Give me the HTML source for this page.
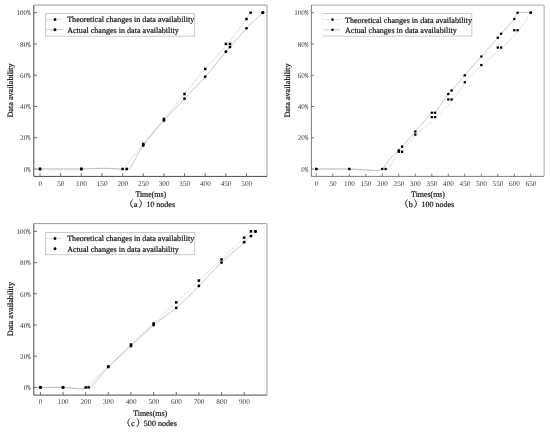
<!DOCTYPE html>
<html><head><meta charset="utf-8"><title>Data availability</title>
<style>html,body{margin:0;padding:0;background:#fff;}body{width:550px;height:432px;overflow:hidden;font-family:'Liberation Serif','Noto Serif CJK SC',serif;}</style>
</head><body>
<svg width="550" height="432" viewBox="0 0 550 432" font-family="'Liberation Serif','Noto Serif CJK SC',serif" style="display:block" text-rendering="geometricPrecision">
<rect width="550" height="432" fill="#fff"/>
<path d="M33.8,5.1H267.0V176.4" fill="none" stroke="#8a8a8a" stroke-width="0.85"/>
<path d="M33.8,5.1V176.4H267.0" fill="none" stroke="#4a4a4a" stroke-width="1.0"/>
<path d="M40.00,176.4v-3.2" stroke="#4a4a4a" stroke-width="0.8"/>
<text x="40.20" y="185.70" font-size="7.3" text-anchor="middle" textLength="3.6" lengthAdjust="spacingAndGlyphs" fill="#3a3a3a" >0</text>
<path d="M60.65,176.4v-3.2" stroke="#4a4a4a" stroke-width="0.8"/>
<text x="60.85" y="185.70" font-size="7.3" text-anchor="middle" textLength="7.2" lengthAdjust="spacingAndGlyphs" fill="#3a3a3a" >50</text>
<path d="M81.30,176.4v-3.2" stroke="#4a4a4a" stroke-width="0.8"/>
<text x="81.50" y="185.70" font-size="7.3" text-anchor="middle" textLength="10.8" lengthAdjust="spacingAndGlyphs" fill="#3a3a3a" >100</text>
<path d="M101.95,176.4v-3.2" stroke="#4a4a4a" stroke-width="0.8"/>
<text x="102.15" y="185.70" font-size="7.3" text-anchor="middle" textLength="10.8" lengthAdjust="spacingAndGlyphs" fill="#3a3a3a" >150</text>
<path d="M122.60,176.4v-3.2" stroke="#4a4a4a" stroke-width="0.8"/>
<text x="122.80" y="185.70" font-size="7.3" text-anchor="middle" textLength="10.8" lengthAdjust="spacingAndGlyphs" fill="#3a3a3a" >200</text>
<path d="M143.25,176.4v-3.2" stroke="#4a4a4a" stroke-width="0.8"/>
<text x="143.45" y="185.70" font-size="7.3" text-anchor="middle" textLength="10.8" lengthAdjust="spacingAndGlyphs" fill="#3a3a3a" >250</text>
<path d="M163.90,176.4v-3.2" stroke="#4a4a4a" stroke-width="0.8"/>
<text x="164.10" y="185.70" font-size="7.3" text-anchor="middle" textLength="10.8" lengthAdjust="spacingAndGlyphs" fill="#3a3a3a" >300</text>
<path d="M184.55,176.4v-3.2" stroke="#4a4a4a" stroke-width="0.8"/>
<text x="184.75" y="185.70" font-size="7.3" text-anchor="middle" textLength="10.8" lengthAdjust="spacingAndGlyphs" fill="#3a3a3a" >350</text>
<path d="M205.20,176.4v-3.2" stroke="#4a4a4a" stroke-width="0.8"/>
<text x="205.40" y="185.70" font-size="7.3" text-anchor="middle" textLength="10.8" lengthAdjust="spacingAndGlyphs" fill="#3a3a3a" >400</text>
<path d="M225.85,176.4v-3.2" stroke="#4a4a4a" stroke-width="0.8"/>
<text x="226.05" y="185.70" font-size="7.3" text-anchor="middle" textLength="10.8" lengthAdjust="spacingAndGlyphs" fill="#3a3a3a" >450</text>
<path d="M246.50,176.4v-3.2" stroke="#4a4a4a" stroke-width="0.8"/>
<text x="246.70" y="185.70" font-size="7.3" text-anchor="middle" textLength="10.8" lengthAdjust="spacingAndGlyphs" fill="#3a3a3a" >500</text>
<path d="M33.8,169.00h3.2" stroke="#4a4a4a" stroke-width="0.8"/>
<text y="171.70" font-size="7.3" fill="#3a3a3a"><tspan x="23.65" textLength="3.5" lengthAdjust="spacingAndGlyphs">0</tspan><tspan x="27.10" textLength="3.6" lengthAdjust="spacingAndGlyphs" stroke="#3a3a3a" stroke-width="0.12">%</tspan></text>
<path d="M33.8,137.74h3.2" stroke="#4a4a4a" stroke-width="0.8"/>
<text y="140.44" font-size="7.3" fill="#3a3a3a"><tspan x="20.10" textLength="7.1" lengthAdjust="spacingAndGlyphs">20</tspan><tspan x="27.10" textLength="3.6" lengthAdjust="spacingAndGlyphs" stroke="#3a3a3a" stroke-width="0.12">%</tspan></text>
<path d="M33.8,106.48h3.2" stroke="#4a4a4a" stroke-width="0.8"/>
<text y="109.18" font-size="7.3" fill="#3a3a3a"><tspan x="20.10" textLength="7.1" lengthAdjust="spacingAndGlyphs">40</tspan><tspan x="27.10" textLength="3.6" lengthAdjust="spacingAndGlyphs" stroke="#3a3a3a" stroke-width="0.12">%</tspan></text>
<path d="M33.8,75.22h3.2" stroke="#4a4a4a" stroke-width="0.8"/>
<text y="77.92" font-size="7.3" fill="#3a3a3a"><tspan x="20.10" textLength="7.1" lengthAdjust="spacingAndGlyphs">60</tspan><tspan x="27.10" textLength="3.6" lengthAdjust="spacingAndGlyphs" stroke="#3a3a3a" stroke-width="0.12">%</tspan></text>
<path d="M33.8,43.96h3.2" stroke="#4a4a4a" stroke-width="0.8"/>
<text y="46.66" font-size="7.3" fill="#3a3a3a"><tspan x="20.10" textLength="7.1" lengthAdjust="spacingAndGlyphs">80</tspan><tspan x="27.10" textLength="3.6" lengthAdjust="spacingAndGlyphs" stroke="#3a3a3a" stroke-width="0.12">%</tspan></text>
<path d="M33.8,12.70h3.2" stroke="#4a4a4a" stroke-width="0.8"/>
<text y="15.40" font-size="7.3" fill="#3a3a3a"><tspan x="16.55" textLength="10.6" lengthAdjust="spacingAndGlyphs">100</tspan><tspan x="27.10" textLength="3.6" lengthAdjust="spacingAndGlyphs" stroke="#3a3a3a" stroke-width="0.12">%</tspan></text>
<path d="M34.22,169.00C35.18,169.00 35.59,169.00 40.00,169.00C44.41,169.00 53.77,169.00 60.65,169.00C67.53,169.00 74.42,169.13 81.30,169.00C88.18,168.87 96.10,168.24 101.95,168.22C107.80,168.19 112.96,168.71 116.41,168.84C119.85,168.97 118.13,173.14 122.60,169.00C127.07,164.86 136.37,152.33 143.25,143.99C150.13,135.66 157.02,127.32 163.90,118.98C170.78,110.65 177.67,102.31 184.55,93.98C191.43,85.64 197.90,77.38 205.20,68.97C212.50,60.55 221.44,51.83 228.33,43.49C235.21,35.16 242.78,24.08 246.50,18.95C250.22,13.82 247.95,13.74 250.63,12.70C253.31,11.66 260.61,12.70 262.61,12.70" fill="none" stroke="#b0b0b0" stroke-width="0.6" stroke-dasharray="1.2,0.8"/>
<path d="M34.22,169.00C35.18,169.00 35.59,169.00 40.00,169.00C44.41,169.00 53.77,169.00 60.65,169.00C67.53,169.00 74.42,169.10 81.30,169.00C88.18,168.90 95.41,168.40 101.95,168.37C108.49,168.35 116.41,168.74 120.53,168.84C124.66,168.95 125.01,169.29 126.73,169.00C128.45,168.71 128.11,171.03 130.86,167.12C133.61,163.22 137.74,153.32 143.25,145.56C148.76,137.79 157.02,128.36 163.90,120.55C170.78,112.73 177.67,105.96 184.55,98.67C191.43,91.37 198.32,84.60 205.20,76.78C212.08,68.97 221.72,56.72 225.85,51.78C229.98,46.83 226.54,50.99 229.98,47.09C233.42,43.18 241.06,34.06 246.50,28.33C251.94,22.60 259.92,15.31 262.61,12.70" fill="none" stroke="#adadad" stroke-width="0.7"/>
<rect x="38.75" y="167.75" width="2.5" height="2.5" fill="#000"/>
<rect x="80.05" y="167.75" width="2.5" height="2.5" fill="#000"/>
<rect x="121.35" y="167.75" width="2.5" height="2.5" fill="#000"/>
<rect x="142.00" y="142.74" width="2.5" height="2.5" fill="#000"/>
<rect x="162.65" y="117.73" width="2.5" height="2.5" fill="#000"/>
<rect x="183.30" y="92.73" width="2.5" height="2.5" fill="#000"/>
<rect x="203.95" y="67.72" width="2.5" height="2.5" fill="#000"/>
<rect x="224.60" y="42.71" width="2.5" height="2.5" fill="#000"/>
<rect x="228.73" y="42.71" width="2.5" height="2.5" fill="#000"/>
<rect x="245.25" y="17.70" width="2.5" height="2.5" fill="#000"/>
<rect x="249.38" y="11.45" width="2.5" height="2.5" fill="#000"/>
<rect x="261.36" y="11.45" width="2.5" height="2.5" fill="#000"/>
<circle cx="40.00" cy="169.00" r="1.45" fill="#000"/>
<circle cx="81.30" cy="169.00" r="1.45" fill="#000"/>
<circle cx="126.73" cy="169.00" r="1.45" fill="#000"/>
<circle cx="143.25" cy="145.56" r="1.45" fill="#000"/>
<circle cx="163.90" cy="120.55" r="1.45" fill="#000"/>
<circle cx="184.55" cy="98.67" r="1.45" fill="#000"/>
<circle cx="205.20" cy="76.78" r="1.45" fill="#000"/>
<circle cx="225.85" cy="51.78" r="1.45" fill="#000"/>
<circle cx="229.98" cy="47.09" r="1.45" fill="#000"/>
<circle cx="246.50" cy="28.33" r="1.45" fill="#000"/>
<circle cx="263.02" cy="12.70" r="1.45" fill="#000"/>
<rect x="45.4" y="13.7" width="149.4" height="22.400000000000002" fill="#fff" stroke="#aaa" stroke-width="0.6"/>
<path d="M47,19.5h15.5" stroke="#b0b0b0" stroke-width="0.6" stroke-dasharray="1.2,0.8"/>
<path d="M47,29.7h15.5" stroke="#b8b8b8" stroke-width="0.8"/>
<rect x="53.75" y="18.25" width="2.5" height="2.5" fill="#000"/>
<circle cx="55" cy="29.7" r="1.45" fill="#000"/>
<text x="67.2" y="22.40" font-size="8.1" textLength="127" lengthAdjust="spacingAndGlyphs" fill="#111" stroke="#111" stroke-width="0.2">Theoretical changes in data availability</text>
<text x="67.2" y="32.80" font-size="8.1" textLength="111.7" lengthAdjust="spacingAndGlyphs" fill="#111" stroke="#111" stroke-width="0.2">Actual changes in data availability</text>
<text transform="translate(13.1,90.45) rotate(-90)" font-size="8.2" text-anchor="middle" textLength="54.3" lengthAdjust="spacingAndGlyphs" fill="#111" stroke="#111" stroke-width="0.2">Data availability</text>
<text x="135.4" y="197.40" font-size="8.3" textLength="30.8" lengthAdjust="spacingAndGlyphs" fill="#111" stroke="#111" stroke-width="0.2">Time(ms)</text>
<text y="207.40" font-size="8.1" fill="#111" stroke="#111" stroke-width="0.2"><tspan x="124.40" font-size="9">（</tspan><tspan x="133.70">a</tspan><tspan x="138.60" font-size="9">）</tspan><tspan x="146.40" textLength="28.6" lengthAdjust="spacingAndGlyphs">10 nodes</tspan></text>
<path d="M311.4,5.1H544.1V176.4" fill="none" stroke="#999" stroke-width="0.85"/>
<path d="M311.4,5.1V176.4H544.1" fill="none" stroke="#5a5a5a" stroke-width="0.8"/>
<path d="M316.30,176.4v-2.7" stroke="#5a5a5a" stroke-width="0.8"/>
<text x="316.50" y="185.70" font-size="7.3" text-anchor="middle" textLength="3.6" lengthAdjust="spacingAndGlyphs" fill="#3a3a3a" >0</text>
<path d="M332.80,176.4v-2.7" stroke="#5a5a5a" stroke-width="0.8"/>
<text x="333.00" y="185.70" font-size="7.3" text-anchor="middle" textLength="7.2" lengthAdjust="spacingAndGlyphs" fill="#3a3a3a" >50</text>
<path d="M349.30,176.4v-2.7" stroke="#5a5a5a" stroke-width="0.8"/>
<text x="349.50" y="185.70" font-size="7.3" text-anchor="middle" textLength="10.8" lengthAdjust="spacingAndGlyphs" fill="#3a3a3a" >100</text>
<path d="M365.80,176.4v-2.7" stroke="#5a5a5a" stroke-width="0.8"/>
<text x="366.00" y="185.70" font-size="7.3" text-anchor="middle" textLength="10.8" lengthAdjust="spacingAndGlyphs" fill="#3a3a3a" >150</text>
<path d="M382.30,176.4v-2.7" stroke="#5a5a5a" stroke-width="0.8"/>
<text x="382.50" y="185.70" font-size="7.3" text-anchor="middle" textLength="10.8" lengthAdjust="spacingAndGlyphs" fill="#3a3a3a" >200</text>
<path d="M398.80,176.4v-2.7" stroke="#5a5a5a" stroke-width="0.8"/>
<text x="399.00" y="185.70" font-size="7.3" text-anchor="middle" textLength="10.8" lengthAdjust="spacingAndGlyphs" fill="#3a3a3a" >250</text>
<path d="M415.30,176.4v-2.7" stroke="#5a5a5a" stroke-width="0.8"/>
<text x="415.50" y="185.70" font-size="7.3" text-anchor="middle" textLength="10.8" lengthAdjust="spacingAndGlyphs" fill="#3a3a3a" >300</text>
<path d="M431.80,176.4v-2.7" stroke="#5a5a5a" stroke-width="0.8"/>
<text x="432.00" y="185.70" font-size="7.3" text-anchor="middle" textLength="10.8" lengthAdjust="spacingAndGlyphs" fill="#3a3a3a" >350</text>
<path d="M448.30,176.4v-2.7" stroke="#5a5a5a" stroke-width="0.8"/>
<text x="448.50" y="185.70" font-size="7.3" text-anchor="middle" textLength="10.8" lengthAdjust="spacingAndGlyphs" fill="#3a3a3a" >400</text>
<path d="M464.80,176.4v-2.7" stroke="#5a5a5a" stroke-width="0.8"/>
<text x="465.00" y="185.70" font-size="7.3" text-anchor="middle" textLength="10.8" lengthAdjust="spacingAndGlyphs" fill="#3a3a3a" >450</text>
<path d="M481.30,176.4v-2.7" stroke="#5a5a5a" stroke-width="0.8"/>
<text x="481.50" y="185.70" font-size="7.3" text-anchor="middle" textLength="10.8" lengthAdjust="spacingAndGlyphs" fill="#3a3a3a" >500</text>
<path d="M497.80,176.4v-2.7" stroke="#5a5a5a" stroke-width="0.8"/>
<text x="498.00" y="185.70" font-size="7.3" text-anchor="middle" textLength="10.8" lengthAdjust="spacingAndGlyphs" fill="#3a3a3a" >550</text>
<path d="M514.30,176.4v-2.7" stroke="#5a5a5a" stroke-width="0.8"/>
<text x="514.50" y="185.70" font-size="7.3" text-anchor="middle" textLength="10.8" lengthAdjust="spacingAndGlyphs" fill="#3a3a3a" >600</text>
<path d="M530.80,176.4v-2.7" stroke="#5a5a5a" stroke-width="0.8"/>
<text x="531.00" y="185.70" font-size="7.3" text-anchor="middle" textLength="10.8" lengthAdjust="spacingAndGlyphs" fill="#3a3a3a" >650</text>
<path d="M311.4,169.00h2.7" stroke="#5a5a5a" stroke-width="0.8"/>
<text y="171.70" font-size="7.3" fill="#3a3a3a"><tspan x="301.25" textLength="3.5" lengthAdjust="spacingAndGlyphs">0</tspan><tspan x="304.70" textLength="3.6" lengthAdjust="spacingAndGlyphs" stroke="#3a3a3a" stroke-width="0.12">%</tspan></text>
<path d="M311.4,137.74h2.7" stroke="#5a5a5a" stroke-width="0.8"/>
<text y="140.44" font-size="7.3" fill="#3a3a3a"><tspan x="297.70" textLength="7.1" lengthAdjust="spacingAndGlyphs">20</tspan><tspan x="304.70" textLength="3.6" lengthAdjust="spacingAndGlyphs" stroke="#3a3a3a" stroke-width="0.12">%</tspan></text>
<path d="M311.4,106.48h2.7" stroke="#5a5a5a" stroke-width="0.8"/>
<text y="109.18" font-size="7.3" fill="#3a3a3a"><tspan x="297.70" textLength="7.1" lengthAdjust="spacingAndGlyphs">40</tspan><tspan x="304.70" textLength="3.6" lengthAdjust="spacingAndGlyphs" stroke="#3a3a3a" stroke-width="0.12">%</tspan></text>
<path d="M311.4,75.22h2.7" stroke="#5a5a5a" stroke-width="0.8"/>
<text y="77.92" font-size="7.3" fill="#3a3a3a"><tspan x="297.70" textLength="7.1" lengthAdjust="spacingAndGlyphs">60</tspan><tspan x="304.70" textLength="3.6" lengthAdjust="spacingAndGlyphs" stroke="#3a3a3a" stroke-width="0.12">%</tspan></text>
<path d="M311.4,43.96h2.7" stroke="#5a5a5a" stroke-width="0.8"/>
<text y="46.66" font-size="7.3" fill="#3a3a3a"><tspan x="297.70" textLength="7.1" lengthAdjust="spacingAndGlyphs">80</tspan><tspan x="304.70" textLength="3.6" lengthAdjust="spacingAndGlyphs" stroke="#3a3a3a" stroke-width="0.12">%</tspan></text>
<path d="M311.4,12.70h2.7" stroke="#5a5a5a" stroke-width="0.8"/>
<text y="15.40" font-size="7.3" fill="#3a3a3a"><tspan x="294.15" textLength="10.6" lengthAdjust="spacingAndGlyphs">100</tspan><tspan x="304.70" textLength="3.6" lengthAdjust="spacingAndGlyphs" stroke="#3a3a3a" stroke-width="0.12">%</tspan></text>
<path d="M316.30,169.00C319.05,169.00 327.30,169.00 332.80,169.00C338.30,169.00 343.80,168.84 349.30,169.00C354.80,169.16 361.12,169.68 365.80,169.94C370.48,170.20 374.05,170.72 377.35,170.56C380.65,170.41 383.57,169.60 385.60,169.00C387.63,168.40 387.91,168.92 389.56,166.97C391.21,165.01 393.85,159.80 395.50,157.28C397.15,154.75 398.20,153.11 399.46,151.81C400.73,150.50 400.45,152.20 403.09,149.46C405.73,146.73 409.75,140.79 415.30,135.40C420.86,130.00 430.15,123.10 436.42,117.11C442.69,111.12 448.08,105.26 452.92,99.45C457.76,93.64 460.62,87.98 465.46,82.25C470.30,76.52 475.80,70.84 481.96,65.06C488.12,59.28 496.26,53.36 502.42,47.55C508.58,41.75 514.19,36.01 518.92,30.21C523.65,24.40 528.82,15.62 530.80,12.70" fill="none" stroke="#b0b0b0" stroke-width="0.6" stroke-dasharray="1.2,0.8"/>
<path d="M316.30,169.00C319.05,169.00 327.30,169.00 332.80,169.00C338.30,169.00 343.80,168.87 349.30,169.00C354.80,169.13 361.40,169.55 365.80,169.78C370.20,170.02 372.95,170.54 375.70,170.41C378.45,170.28 380.54,170.07 382.30,169.00C384.06,167.93 384.61,166.08 386.26,164.00C387.91,161.91 390.11,158.79 392.20,156.50C394.29,154.20 397.15,151.89 398.80,150.24C400.45,148.60 399.35,149.78 402.10,146.65C404.85,143.52 410.35,137.14 415.30,131.49C420.25,125.84 428.50,115.86 431.80,112.73C435.10,109.61 432.35,115.86 435.10,112.73C437.85,109.61 445.55,97.68 448.30,93.98C451.05,90.28 448.85,93.66 451.60,90.54C454.35,87.41 459.85,80.90 464.80,75.22C469.75,69.54 475.80,62.72 481.30,56.46C486.80,50.21 494.50,41.49 497.80,37.71C501.10,33.93 498.35,36.93 501.10,33.80C503.85,30.67 511.55,22.47 514.30,18.95C517.05,15.44 514.85,13.74 517.60,12.70C520.35,11.66 528.60,12.70 530.80,12.70" fill="none" stroke="#adadad" stroke-width="0.7"/>
<rect x="315.15" y="167.85" width="2.3" height="2.3" fill="#000"/>
<rect x="348.15" y="167.85" width="2.3" height="2.3" fill="#000"/>
<rect x="384.45" y="167.85" width="2.3" height="2.3" fill="#000"/>
<rect x="397.65" y="150.66" width="2.3" height="2.3" fill="#000"/>
<rect x="400.95" y="150.66" width="2.3" height="2.3" fill="#000"/>
<rect x="414.15" y="133.46" width="2.3" height="2.3" fill="#000"/>
<rect x="430.65" y="115.96" width="2.3" height="2.3" fill="#000"/>
<rect x="433.95" y="115.96" width="2.3" height="2.3" fill="#000"/>
<rect x="447.15" y="98.30" width="2.3" height="2.3" fill="#000"/>
<rect x="450.45" y="98.30" width="2.3" height="2.3" fill="#000"/>
<rect x="463.65" y="81.10" width="2.3" height="2.3" fill="#000"/>
<rect x="480.15" y="63.91" width="2.3" height="2.3" fill="#000"/>
<rect x="496.65" y="46.40" width="2.3" height="2.3" fill="#000"/>
<rect x="499.95" y="46.40" width="2.3" height="2.3" fill="#000"/>
<rect x="513.15" y="29.06" width="2.3" height="2.3" fill="#000"/>
<rect x="516.45" y="29.06" width="2.3" height="2.3" fill="#000"/>
<rect x="529.65" y="11.55" width="2.3" height="2.3" fill="#000"/>
<circle cx="316.30" cy="169.00" r="1.3" fill="#000"/>
<circle cx="349.30" cy="169.00" r="1.3" fill="#000"/>
<circle cx="382.30" cy="169.00" r="1.3" fill="#000"/>
<circle cx="398.80" cy="150.24" r="1.3" fill="#000"/>
<circle cx="402.10" cy="146.65" r="1.3" fill="#000"/>
<circle cx="415.30" cy="131.49" r="1.3" fill="#000"/>
<circle cx="431.80" cy="112.73" r="1.3" fill="#000"/>
<circle cx="435.10" cy="112.73" r="1.3" fill="#000"/>
<circle cx="448.30" cy="93.98" r="1.3" fill="#000"/>
<circle cx="451.60" cy="90.54" r="1.3" fill="#000"/>
<circle cx="464.80" cy="75.22" r="1.3" fill="#000"/>
<circle cx="481.30" cy="56.46" r="1.3" fill="#000"/>
<circle cx="497.80" cy="37.71" r="1.3" fill="#000"/>
<circle cx="501.10" cy="33.80" r="1.3" fill="#000"/>
<circle cx="514.30" cy="18.95" r="1.3" fill="#000"/>
<circle cx="517.60" cy="12.70" r="1.3" fill="#000"/>
<circle cx="530.80" cy="12.70" r="1.3" fill="#000"/>
<path d="M322.8,13.5H471.8V36.1H322.8" fill="#fff" stroke="#aaa" stroke-width="0.6"/>
<path d="M322.8,13.5V36.1" fill="none" stroke="#e4e4e4" stroke-width="0.5"/>
<path d="M324.5,19.6h15.5" stroke="#b0b0b0" stroke-width="0.6" stroke-dasharray="1.2,0.8"/>
<path d="M324.5,29.8h15.5" stroke="#b8b8b8" stroke-width="0.8"/>
<rect x="331.35" y="18.45" width="2.3" height="2.3" fill="#000"/>
<circle cx="332.5" cy="29.8" r="1.3" fill="#000"/>
<text x="345" y="22.50" font-size="8.1" textLength="127" lengthAdjust="spacingAndGlyphs" fill="#111" stroke="#111" stroke-width="0.2">Theoretical changes in data availability</text>
<text x="345" y="32.90" font-size="8.1" textLength="111.7" lengthAdjust="spacingAndGlyphs" fill="#111" stroke="#111" stroke-width="0.2">Actual changes in data availability</text>
<text transform="translate(290.0,90.45) rotate(-90)" font-size="8.2" text-anchor="middle" textLength="54.3" lengthAdjust="spacingAndGlyphs" fill="#111" stroke="#111" stroke-width="0.2">Data availability</text>
<text x="411.1" y="197.40" font-size="8.3" textLength="33.9" lengthAdjust="spacingAndGlyphs" fill="#111" stroke="#111" stroke-width="0.2">Times(ms)</text>
<text y="207.40" font-size="8.1" fill="#111" stroke="#111" stroke-width="0.2"><tspan x="399.40" font-size="9">（</tspan><tspan x="408.70">b</tspan><tspan x="413.60" font-size="9">）</tspan><tspan x="421.40" textLength="32.7" lengthAdjust="spacingAndGlyphs">100 nodes</tspan></text>
<path d="M33.8,223.6H267.0V395.1" fill="none" stroke="#8a8a8a" stroke-width="0.85"/>
<path d="M33.8,223.6V395.1H267.0" fill="none" stroke="#4a4a4a" stroke-width="1.0"/>
<path d="M40.40,395.1v-3.2" stroke="#4a4a4a" stroke-width="0.8"/>
<text x="40.60" y="404.40" font-size="7.3" text-anchor="middle" textLength="3.6" lengthAdjust="spacingAndGlyphs" fill="#3a3a3a" >0</text>
<path d="M63.04,395.1v-3.2" stroke="#4a4a4a" stroke-width="0.8"/>
<text x="63.24" y="404.40" font-size="7.3" text-anchor="middle" textLength="10.8" lengthAdjust="spacingAndGlyphs" fill="#3a3a3a" >100</text>
<path d="M85.68,395.1v-3.2" stroke="#4a4a4a" stroke-width="0.8"/>
<text x="85.88" y="404.40" font-size="7.3" text-anchor="middle" textLength="10.8" lengthAdjust="spacingAndGlyphs" fill="#3a3a3a" >200</text>
<path d="M108.32,395.1v-3.2" stroke="#4a4a4a" stroke-width="0.8"/>
<text x="108.52" y="404.40" font-size="7.3" text-anchor="middle" textLength="10.8" lengthAdjust="spacingAndGlyphs" fill="#3a3a3a" >300</text>
<path d="M130.96,395.1v-3.2" stroke="#4a4a4a" stroke-width="0.8"/>
<text x="131.16" y="404.40" font-size="7.3" text-anchor="middle" textLength="10.8" lengthAdjust="spacingAndGlyphs" fill="#3a3a3a" >400</text>
<path d="M153.60,395.1v-3.2" stroke="#4a4a4a" stroke-width="0.8"/>
<text x="153.80" y="404.40" font-size="7.3" text-anchor="middle" textLength="10.8" lengthAdjust="spacingAndGlyphs" fill="#3a3a3a" >500</text>
<path d="M176.24,395.1v-3.2" stroke="#4a4a4a" stroke-width="0.8"/>
<text x="176.44" y="404.40" font-size="7.3" text-anchor="middle" textLength="10.8" lengthAdjust="spacingAndGlyphs" fill="#3a3a3a" >600</text>
<path d="M198.88,395.1v-3.2" stroke="#4a4a4a" stroke-width="0.8"/>
<text x="199.08" y="404.40" font-size="7.3" text-anchor="middle" textLength="10.8" lengthAdjust="spacingAndGlyphs" fill="#3a3a3a" >700</text>
<path d="M221.52,395.1v-3.2" stroke="#4a4a4a" stroke-width="0.8"/>
<text x="221.72" y="404.40" font-size="7.3" text-anchor="middle" textLength="10.8" lengthAdjust="spacingAndGlyphs" fill="#3a3a3a" >800</text>
<path d="M244.16,395.1v-3.2" stroke="#4a4a4a" stroke-width="0.8"/>
<text x="244.36" y="404.40" font-size="7.3" text-anchor="middle" textLength="10.8" lengthAdjust="spacingAndGlyphs" fill="#3a3a3a" >900</text>
<path d="M33.8,387.40h3.2" stroke="#4a4a4a" stroke-width="0.8"/>
<text y="390.10" font-size="7.3" fill="#3a3a3a"><tspan x="23.65" textLength="3.5" lengthAdjust="spacingAndGlyphs">0</tspan><tspan x="27.10" textLength="3.6" lengthAdjust="spacingAndGlyphs" stroke="#3a3a3a" stroke-width="0.12">%</tspan></text>
<path d="M33.8,356.20h3.2" stroke="#4a4a4a" stroke-width="0.8"/>
<text y="358.90" font-size="7.3" fill="#3a3a3a"><tspan x="20.10" textLength="7.1" lengthAdjust="spacingAndGlyphs">20</tspan><tspan x="27.10" textLength="3.6" lengthAdjust="spacingAndGlyphs" stroke="#3a3a3a" stroke-width="0.12">%</tspan></text>
<path d="M33.8,325.00h3.2" stroke="#4a4a4a" stroke-width="0.8"/>
<text y="327.70" font-size="7.3" fill="#3a3a3a"><tspan x="20.10" textLength="7.1" lengthAdjust="spacingAndGlyphs">40</tspan><tspan x="27.10" textLength="3.6" lengthAdjust="spacingAndGlyphs" stroke="#3a3a3a" stroke-width="0.12">%</tspan></text>
<path d="M33.8,293.80h3.2" stroke="#4a4a4a" stroke-width="0.8"/>
<text y="296.50" font-size="7.3" fill="#3a3a3a"><tspan x="20.10" textLength="7.1" lengthAdjust="spacingAndGlyphs">60</tspan><tspan x="27.10" textLength="3.6" lengthAdjust="spacingAndGlyphs" stroke="#3a3a3a" stroke-width="0.12">%</tspan></text>
<path d="M33.8,262.60h3.2" stroke="#4a4a4a" stroke-width="0.8"/>
<text y="265.30" font-size="7.3" fill="#3a3a3a"><tspan x="20.10" textLength="7.1" lengthAdjust="spacingAndGlyphs">80</tspan><tspan x="27.10" textLength="3.6" lengthAdjust="spacingAndGlyphs" stroke="#3a3a3a" stroke-width="0.12">%</tspan></text>
<path d="M33.8,231.40h3.2" stroke="#4a4a4a" stroke-width="0.8"/>
<text y="234.10" font-size="7.3" fill="#3a3a3a"><tspan x="16.55" textLength="10.6" lengthAdjust="spacingAndGlyphs">100</tspan><tspan x="27.10" textLength="3.6" lengthAdjust="spacingAndGlyphs" stroke="#3a3a3a" stroke-width="0.12">%</tspan></text>
<path d="M37.68,387.40C38.14,387.40 38.06,387.40 40.40,387.40C42.74,387.40 47.95,387.40 51.72,387.40C55.49,387.40 59.27,387.24 63.04,387.40C66.81,387.56 71.34,388.13 74.36,388.34C77.38,388.54 79.27,388.80 81.15,388.65C83.04,388.49 81.15,391.12 85.68,387.40C90.21,383.68 100.77,373.49 108.32,366.34C115.87,359.19 123.41,351.65 130.96,344.50C138.51,337.35 146.05,330.46 153.60,323.44C161.15,316.42 168.69,309.53 176.24,302.38C183.79,295.23 191.33,287.69 198.88,280.54C206.43,273.39 213.97,266.63 221.52,259.48C229.07,252.33 239.25,242.32 244.16,237.64C249.07,232.96 249.07,232.44 250.95,231.40C252.84,230.36 254.73,231.40 255.48,231.40" fill="none" stroke="#b0b0b0" stroke-width="0.6" stroke-dasharray="1.2,0.8"/>
<path d="M37.68,387.40C38.14,387.40 38.06,387.40 40.40,387.40C42.74,387.40 47.95,387.40 51.72,387.40C55.49,387.40 59.27,387.24 63.04,387.40C66.81,387.56 71.04,388.10 74.36,388.34C77.68,388.57 80.59,388.96 82.96,388.80C85.34,388.65 87.11,387.89 88.62,387.40C90.13,386.91 88.74,389.22 92.02,385.84C95.30,382.46 101.83,373.75 108.32,367.12C114.81,360.49 123.41,353.08 130.96,346.06C138.51,339.04 146.05,331.37 153.60,325.00C161.15,318.63 168.69,314.34 176.24,307.84C183.79,301.34 191.33,293.54 198.88,286.00C206.43,278.46 213.97,269.88 221.52,262.60C229.07,255.32 239.25,246.87 244.16,242.32C249.07,237.77 249.07,237.12 250.95,235.30C252.84,233.48 254.73,232.05 255.48,231.40" fill="none" stroke="#adadad" stroke-width="0.7"/>
<rect x="39.15" y="386.15" width="2.5" height="2.5" fill="#000"/>
<rect x="61.79" y="386.15" width="2.5" height="2.5" fill="#000"/>
<rect x="84.43" y="386.15" width="2.5" height="2.5" fill="#000"/>
<rect x="107.07" y="365.09" width="2.5" height="2.5" fill="#000"/>
<rect x="129.71" y="343.25" width="2.5" height="2.5" fill="#000"/>
<rect x="152.35" y="322.19" width="2.5" height="2.5" fill="#000"/>
<rect x="174.99" y="301.13" width="2.5" height="2.5" fill="#000"/>
<rect x="197.63" y="279.29" width="2.5" height="2.5" fill="#000"/>
<rect x="220.27" y="258.23" width="2.5" height="2.5" fill="#000"/>
<rect x="242.91" y="236.39" width="2.5" height="2.5" fill="#000"/>
<rect x="249.70" y="230.15" width="2.5" height="2.5" fill="#000"/>
<rect x="254.23" y="230.15" width="2.5" height="2.5" fill="#000"/>
<circle cx="40.40" cy="387.40" r="1.45" fill="#000"/>
<circle cx="63.04" cy="387.40" r="1.45" fill="#000"/>
<circle cx="88.62" cy="387.40" r="1.45" fill="#000"/>
<circle cx="108.32" cy="367.12" r="1.45" fill="#000"/>
<circle cx="130.96" cy="346.06" r="1.45" fill="#000"/>
<circle cx="153.60" cy="325.00" r="1.45" fill="#000"/>
<circle cx="176.24" cy="307.84" r="1.45" fill="#000"/>
<circle cx="198.88" cy="286.00" r="1.45" fill="#000"/>
<circle cx="221.52" cy="262.60" r="1.45" fill="#000"/>
<circle cx="244.16" cy="242.32" r="1.45" fill="#000"/>
<circle cx="250.95" cy="236.08" r="1.45" fill="#000"/>
<circle cx="255.48" cy="231.40" r="1.45" fill="#000"/>
<rect x="45.4" y="232.7" width="149.4" height="22.100000000000023" fill="#fff" stroke="#aaa" stroke-width="0.6"/>
<path d="M47,238.5h15.5" stroke="#b0b0b0" stroke-width="0.6" stroke-dasharray="1.2,0.8"/>
<path d="M47,248.7h15.5" stroke="#f0f0f0" stroke-width="0.8"/>
<rect x="53.75" y="237.25" width="2.5" height="2.5" fill="#000"/>
<circle cx="55" cy="248.7" r="1.45" fill="#000"/>
<text x="67.2" y="241.40" font-size="8.1" textLength="127" lengthAdjust="spacingAndGlyphs" fill="#111" stroke="#111" stroke-width="0.2">Theoretical changes in data availability</text>
<text x="67.2" y="251.80" font-size="8.1" textLength="111.7" lengthAdjust="spacingAndGlyphs" fill="#111" stroke="#111" stroke-width="0.2">Actual changes in data availability</text>
<text transform="translate(13.1,309.05) rotate(-90)" font-size="8.2" text-anchor="middle" textLength="54.3" lengthAdjust="spacingAndGlyphs" fill="#111" stroke="#111" stroke-width="0.2">Data availability</text>
<text x="133.2" y="416.10" font-size="8.3" textLength="33.9" lengthAdjust="spacingAndGlyphs" fill="#111" stroke="#111" stroke-width="0.2">Times(ms)</text>
<text y="426.10" font-size="8.1" fill="#111" stroke="#111" stroke-width="0.2"><tspan x="121.80" font-size="9">（</tspan><tspan x="131.10">c</tspan><tspan x="136.00" font-size="9">）</tspan><tspan x="143.80" textLength="33" lengthAdjust="spacingAndGlyphs">500 nodes</tspan></text>
</svg>
</body></html>
